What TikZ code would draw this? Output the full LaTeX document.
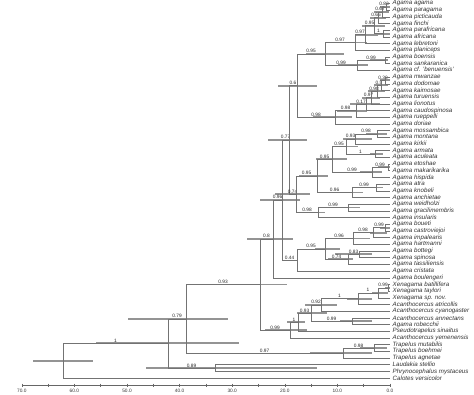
\documentclass[tikz,border=0pt]{standalone}
\usepackage{fontspec}
\setmainfont{Liberation Sans}
\usepackage{tikz}

\begin{document}
\begin{tikzpicture}[x=1pt, y=-1pt,
                    branch/.style={draw=black!55, line width=.45pt},
                    hpd/.style={draw=black!42, line width=1.9pt},
                    pp/.style={font=\fontsize{4.8}{5}\selectfont, text=black!85, inner sep=.7pt, above},
                    taxon/.style={font=\fontsize{6.2}{7}\selectfont\itshape, text=black!80,
                                  anchor=west, inner xsep=2.5pt, inner ysep=0pt},
                    axisline/.style={draw=black!60, line width=.5pt},
                    axlab/.style={font=\fontsize{4.8}{5}\selectfont, text=black!80, inner sep=0pt}
                    ]
        \useasboundingbox (0,0) rectangle (474,395);

        \begin{scope}[yshift=-2pt, yscale=.994]
        % tips, top to bottom
        \foreach \name [count=\i from 0] in {Agama agama, Agama paragama, Agama picticauda,
            Agama finchi, Agama parafricana, Agama africana, Agama lebretoni, Agama planiceps,
            Agama boensis, Agama sankaranica, Agama cf. 'benuensis', Agama mwanzae,
            Agama dodomae, Agama kaimosae, Agama turuensis, Agama lionotus, Agama caudospinosa,
            Agama rueppelli, Agama doriae, Agama mossambica, Agama montana, Agama kirkii,
            Agama armata, Agama aculeata, Agama etoshae, Agama makarikarika, Agama hispida,
            Agama atra, Agama knobeli, Agama anchietae, Agama weidholzi, Agama gracilimembris,
            Agama insularis, Agama boueti, Agama castroviejoi, Agama impalearis,
            Agama hartmanni, Agama bottegi, Agama spinosa, Agama tassiliensis, Agama cristata,
            Agama boulengeri, Xenagama batillifera, Xenagama taylori, Xenagama sp. nov.,
            Acanthocercus atricollis, Acanthocercus cyanogaster, Acanthocercus annectans,
            Agama robecchii, Pseudotrapelus sinaitus, Acanthocercus yemenensis,
            Trapelus mutabilis, Trapelus boehmei, Trapelus agnetae, Laudakia stellio,
            Phrynocephalus mystaceus, Calotes versicolor}
            \node[taxon] (t\i) at (390, 1.5+6.73*\i) {\name};

        % internal nodes
        \coordinate (root)  at (63,360.93);
        \coordinate (c1)    at (168,343.47);
        \coordinate (c079)  at (186,318.66);
        \coordinate (c089)  at (215,368.29);
        \coordinate (c093)  at (260,284.18);
        \coordinate (ctra)  at (343,353.14);
        \coordinate (cmb)   at (374,348.1);
        \coordinate (c08)   at (273,238.29);
        \coordinate (c099c) at (290,330.06);
        \coordinate (c1b)   at (298,322.12);
        \coordinate (c093b) at (311,312.97);
        \coordinate (c092)  at (321,304.77);
        \coordinate (car)   at (352,321.18);
        \coordinate (cxa)   at (358,298.46);
        \coordinate (cxen)  at (378,292.58);
        \coordinate (cbt)   at (388,287.53);
        \coordinate (c096c) at (282,199.15);
        \coordinate (c077)  at (289,138.75);
        \coordinate (c044)  at (297,259.55);
        \coordinate (c095m) at (325,248.4);
        \coordinate (c096b) at (353,237.9);
        \coordinate (c098f) at (373,232.0);
        \coordinate (cbou)  at (385,226.96);
        \coordinate (c074b) at (348,258.9);
        \coordinate (c083b) at (359,253.88);
        \coordinate (c06)   at (297,84.1);
        \coordinate (c074)  at (296,193.4);
        \coordinate (c095i) at (317,175.0);
        \coordinate (c098e) at (318,211.8);
        \coordinate (cwei)  at (348,206.77);
        \coordinate (c095j) at (332,158.4);
        \coordinate (c096a) at (352,191.63);
        \coordinate (catr)  at (376,186.58);
        \coordinate (c095k) at (346,145.36);
        \coordinate (c099h) at (372,171.44);
        \coordinate (ceto)  at (388,166.39);
        \coordinate (c093k) at (355,137.79);
        \coordinate (carm)  at (375,152.93);
        \coordinate (cmm)   at (377,132.74);
        \coordinate (c095)  at (325,52.24);
        \coordinate (c098b) at (335,115.97);
        \coordinate (c098c) at (356,109.29);
        \coordinate (c017)  at (366,102.66);
        \coordinate (c097c) at (371,96.14);
        \coordinate (c098d) at (377,89.83);
        \coordinate (c05)   at (381,83.94);
        \coordinate (c030)  at (385,78.9);
        \coordinate (c097a) at (355,40.73);
        \coordinate (c099b) at (357,63.75);
        \coordinate (cboe)  at (385,58.7);
        \coordinate (c097b) at (365,32.84);
        \coordinate (c095a) at (374,23.8);
        \coordinate (c066)  at (378,15.8);
        \coordinate (cafr)  at (383,31.79);
        \coordinate (c067)  at (382,9.92);
        \coordinate (c083)  at (386,4.87);

        % 95% HPD bars
        \foreach \n/\lo/\hi in {root/33/93, c1/96/239, c079/128/228, c089/146/317,
            c093/227/287, c08/247/293, c096c/260/300, c077/268/307, c06/278/317,
            c095/306/344, c097a/333/367, c097b/355/378, c095a/362/385, c066/370/386,
            c067/374/389, c083/380/390, cafr/377/390, c099b/338/368, cboe/370/388,
            c098b/313/352, c098c/337/367, c017/350/380, c097c/362/380, c098d/368/385,
            c05/374/388, c030/380/390, c074/275/310, c095i/299/328, c095j/316/347,
            c095k/332/358, c093k/343/372, cmm/366/387, carm/370/383, c099h/360/382,
            ceto/378/390, c096a/335/363, catr/368/383, c098e/297/325, cwei/328/360,
            c095m/315/340, c096b/332/370, c098f/370/387, cbou/380/390, c074b/328/353,
            c083b/335/372, c099c/265/307, c1b/287/305, c093b/297/327, c092/305/337,
            cxa/347/372, cxen/372/388, cbt/385/390, car/340/372, ctra/310/372, cmb/360/387}
            \draw[hpd] (\lo,0 |- \n) -- (\hi,0 |- \n);

        % branches between internal nodes, with posterior values
        \foreach \p/\c/\v in {root/c1/1, c1/c079/0.79, c1/c089/0.89, c079/c093/0.93,
            c079/ctra/0.97, ctra/cmb/0.98, c093/c08/0.8, c093/c099c/0.99, c099c/c1b/1,
            c1b/c093b/0.93, c093b/c092/0.92, c093b/car/0.99, c092/cxa/1, cxa/cxen/1,
            cxen/cbt/0.99, c08/c096c/0.96, c096c/c077/0.77, c096c/c044/0.44,
            c044/c095m/0.95, c095m/c096b/0.96, c095m/c074b/0.74, c096b/c098f/0.98,
            c098f/cbou/0.99, c074b/c083b/0.83, c077/c06/0.6, c077/c074/0.74,
            c074/c095i/0.95, c074/c098e/0.98, c098e/cwei/0.99, c095i/c095j/0.95,
            c095i/c096a/0.96, c096a/catr/0.99, c095j/c095k/0.95, c095j/c099h/0.99,
            c099h/ceto/0.99, c095k/c093k/0.93, c095k/carm/1, c093k/cmm/0.98,
            c06/c095/0.95, c06/c098b/0.98, c098b/c098c/0.98, c098c/c017/0.17,
            c017/c097c/0.97, c097c/c098d/0.98, c098d/c05/0.5, c05/c030/0.30,
            c095/c097a/0.97, c095/c099b/0.99, c099b/cboe/0.99, c097a/c097b/0.97,
            c097b/c095a/0.95, c095a/c066/0.66, c095a/cafr/1, c066/c067/0.67, c067/c083/0.83}
            \draw[branch] (\p) |- (\c) node[pp, pos=.75] {\v};

        % branches to tips
        \foreach \p/\t in {c083/0, c083/1, c067/2, c066/3, cafr/4, cafr/5, c097b/6, c097a/7,
            cboe/8, cboe/9, c099b/10, c030/11, c030/12, c05/13, c098d/14, c097c/15, c017/16,
            c098c/17, c098b/18, cmm/19, cmm/20, c093k/21, carm/22, carm/23, ceto/24, ceto/25,
            c099h/26, catr/27, catr/28, c096a/29, cwei/30, cwei/31, c098e/32, cbou/33, cbou/34,
            c098f/35, c096b/36, c083b/37, c083b/38, c074b/39, c044/40, c08/41, cbt/42, cbt/43,
            cxen/44, cxa/45, c092/46, car/47, car/48, c1b/49, c099c/50, cmb/51, cmb/52,
            ctra/53, c089/54, c089/55, root/56}
            \draw[branch] (\p) |- (t\t.west);
        \end{scope}

        % time axis
        \draw[axisline] (21.8,385) -- (390,385);
        \foreach \a in {0,5,...,70}
            \draw[axisline] ({390-5.26*\a},383.5) -- ++(0,3);
        \foreach \a in {0,10,...,70}
            \node[axlab] (ax\a) at ({390-5.26*\a},391) {\a.0};
    \end{tikzpicture}
\end{document}
